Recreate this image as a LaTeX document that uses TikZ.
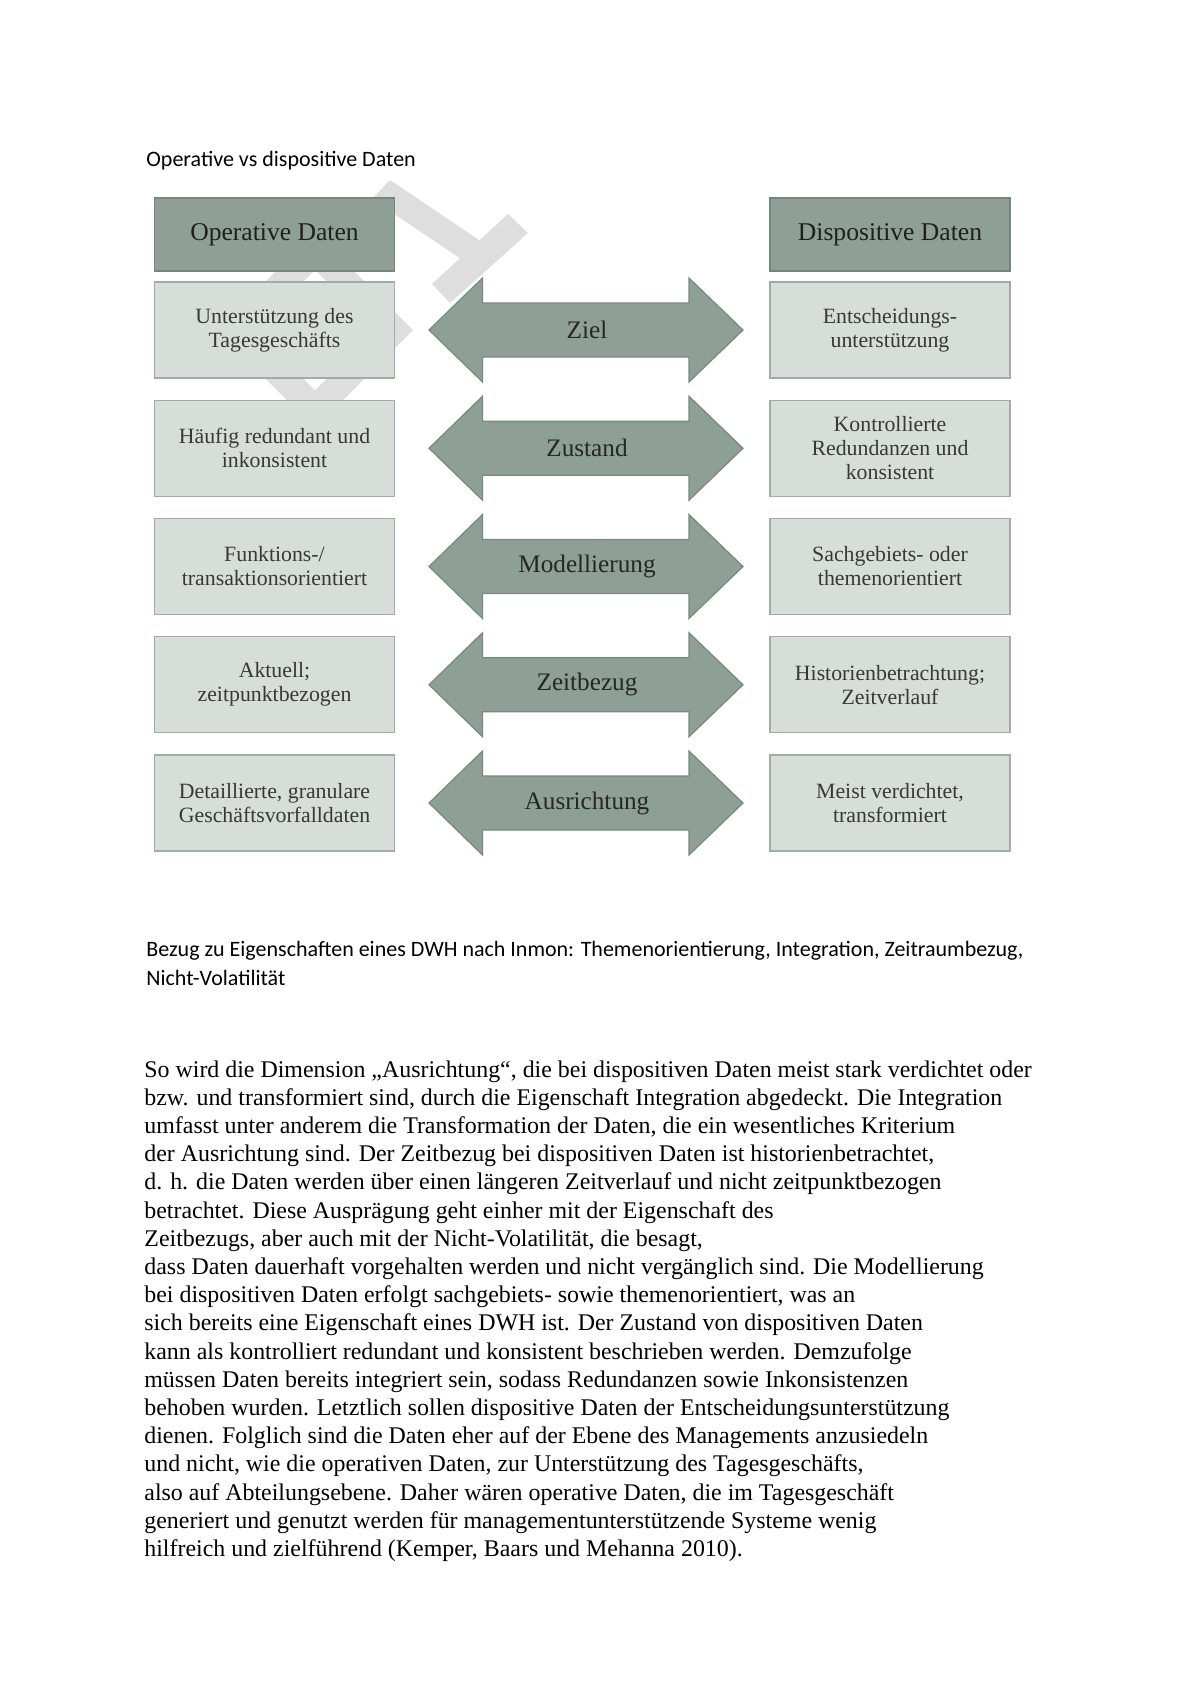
\documentclass[tikz,border=0pt]{standalone}
\usepackage{fontspec}
\setmainfont{Liberation Serif}
\newfontfamily\calibri{Carlito}
\definecolor{hdr}{HTML}{8E9F96}
\definecolor{hdrline}{HTML}{76857D}
\definecolor{cell}{HTML}{D7DED9}
\definecolor{cellline}{HTML}{A1ACA6}
\definecolor{arr}{HTML}{8E9F96}
\definecolor{arrline}{HTML}{7A8880}
\definecolor{wm}{HTML}{DEDEDE}
\definecolor{celltext}{HTML}{383838}
\tikzset{
  hdrbox/.style={draw=hdrline, fill=hdr, line width=0.6pt, minimum width=120pt, minimum height=36.5pt,
    inner sep=0pt, font=\fontsize{12.8}{15}\selectfont, text=black!88},
  cellbox/.style={draw=cellline, fill=cell, line width=0.6pt, minimum width=120pt, minimum height=48pt,
    inner sep=0pt, align=center, font=\fontsize{10.9}{12}\selectfont, text=celltext},
  arrowshape/.style={fill=arr, draw=arrline, line width=0.6pt},
  arrowlabel/.style={inner sep=0pt, font=\fontsize{12.6}{14}\selectfont, text=black!85},
  bodyline/.style={anchor=base west, inner sep=0pt, font=\fontsize{11.95}{14}\selectfont},
  calline/.style={anchor=base west, inner sep=0pt, font=\calibri\fontsize{11}{13}\selectfont},
}
\begin{document}
\begin{tikzpicture}[x=0.5pt,y=-0.5pt]
\useasboundingbox (0,0) rectangle (1200,1698);
\fill[white] (0,0) rectangle (1200,1698);

% watermark (behind the diagram)
\fill[wm] (315,232) -- (413,330) -- (315,428) -- (217,330) -- cycle;
\fill[white] (315,270) -- (375,330) -- (315,390) -- (255,330) -- cycle;
\fill[wm] (372,199) -- (390,180) -- (482,242) -- (464,261) -- cycle;
\fill[wm] (508,214) -- (528,233) -- (450,303) -- (432,284) -- cycle;

% title
\node[calline] (title) at (146,166) {Operative vs dispositive Daten};

% headers
\node[hdrbox] (hl) at (274.5,234.5) {Operative Daten};
\node[hdrbox] (hr) at (890,234.5) {Dispositive Daten};

% rows
\node[cellbox] (l1) at (274.5,{330}) {Unterstützung des\\Tagesgeschäfts};
\node[cellbox] (l2) at (274.5,{330+118.25}) {Häufig redundant und\\inkonsistent};
\node[cellbox] (l3) at (274.5,{330+2*118.25}) {Funktions-/\\transaktionsorientiert};
\node[cellbox] (l4) at (274.5,{330+3*118.25}) {Aktuell;\\zeitpunktbezogen};
\node[cellbox] (l5) at (274.5,{330+4*118.25}) {Detaillierte, granulare\\Geschäftsvorfalldaten};

\node[cellbox] (r1) at (890,{330}) {Entscheidungs-\\unterstützung};
\node[cellbox] (r2) at (890,{330+118.25}) {Kontrollierte\\Redundanzen und\\konsistent};
\node[cellbox] (r3) at (890,{330+2*118.25}) {Sachgebiets- oder\\themenorientiert};
\node[cellbox] (r4) at (890,{330+3*118.25}) {Historienbetrachtung;\\Zeitverlauf};
\node[cellbox] (r5) at (890,{330+4*118.25}) {Meist verdichtet,\\transformiert};

% double arrows
\foreach \lab [count=\i from 0] in {Ziel,Zustand,Modellierung,Zeitbezug,Ausrichtung}{
  \pgfmathsetmacro{\cy}{330+118.25*\i}
  \draw[arrowshape] (429,\cy) -- (482.5,\cy-52) -- (482.5,\cy-27) -- (689,\cy-27) -- (689,\cy-52)
    -- (743,\cy) -- (689,\cy+52) -- (689,\cy+27) -- (482.5,\cy+27) -- (482.5,\cy+52) -- cycle;
  \node[arrowlabel] (a\i) at (587,\cy) {\lab};
}

% Bezug text
\node[calline] (bz1) at (146,956) {Bezug zu Eigenschaften eines DWH nach Inmon: Themenorientierung, Integration, Zeitraumbezug,};
\node[calline] (bz2) at (146,985) {Nicht-Volatilität};

% body paragraph
\foreach \t [count=\i from 0] in {
 {So wird die Dimension „Ausrichtung“, die bei dispositiven Daten meist stark verdichtet oder},
 {bzw. und transformiert sind, durch die Eigenschaft Integration abgedeckt. Die Integration},
 {umfasst unter anderem die Transformation der Daten, die ein wesentliches Kriterium},
 {der Ausrichtung sind. Der Zeitbezug bei dispositiven Daten ist historienbetrachtet,},
 {d. h. die Daten werden über einen längeren Zeitverlauf und nicht zeitpunktbezogen},
 {betrachtet. Diese Ausprägung geht einher mit der Eigenschaft des},
 {Zeitbezugs, aber auch mit der Nicht-Volatilität, die besagt,},
 {dass Daten dauerhaft vorgehalten werden und nicht vergänglich sind. Die Modellierung},
 {bei dispositiven Daten erfolgt sachgebiets- sowie themenorientiert, was an},
 {sich bereits eine Eigenschaft eines DWH ist. Der Zustand von dispositiven Daten},
 {kann als kontrolliert redundant und konsistent beschrieben werden. Demzufolge},
 {müssen Daten bereits integriert sein, sodass Redundanzen sowie Inkonsistenzen},
 {behoben wurden. Letztlich sollen dispositive Daten der Entscheidungsunterstützung},
 {dienen. Folglich sind die Daten eher auf der Ebene des Managements anzusiedeln},
 {und nicht, wie die operativen Daten, zur Unterstützung des Tagesgeschäfts,},
 {also auf Abteilungsebene. Daher wären operative Daten, die im Tagesgeschäft},
 {generiert und genutzt werden für managementunterstützende Systeme wenig},
 {hilfreich und zielführend (Kemper, Baars und Mehanna 2010).}
}{
  \node[bodyline] (body\i) at (144,{1077+28.2*\i}) {\t};
}
\end{tikzpicture}
\end{document}
